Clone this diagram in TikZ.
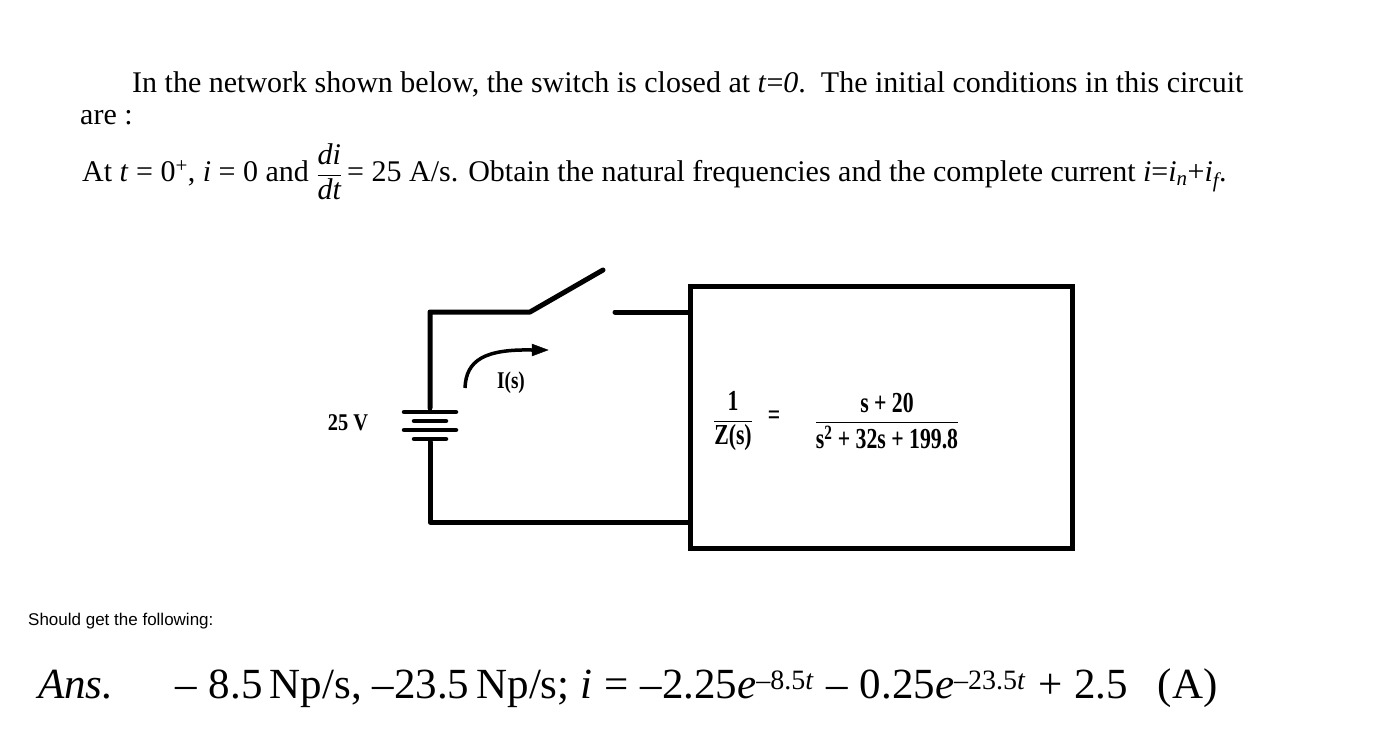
\documentclass[tikz,border=0pt]{standalone}
\usepackage{amsmath}
\usepackage{fontspec}
\setmainfont{Liberation Serif}
\newfontfamily\sansf{Liberation Sans}
\begin{document}
\begin{tikzpicture}[x=1pt,y=-1pt,
  wire/.style={line width=5pt,line cap=round,line join=round},
  txt/.style={inner sep=0pt,anchor=west,font=\fontsize{30}{32}\selectfont},
  bold/.style={inner sep=0pt,font=\bfseries\fontsize{24}{26}\selectfont},
  boxtxt/.style={inner sep=0pt,font=\bfseries\fontsize{29}{30}\selectfont}]
\useasboundingbox (0,0) rectangle (1388,737);
\node[txt] (l1) at (132,84) {In the network shown below, the switch is closed at \textit{t}=\textit{0}.\ \ The initial conditions in this circuit};
\node[txt] (l2) at (80,118) {are :};
\node[txt] (l3) at (82,172) {At \textit{t} = 0$^{\text{+}}$, \textit{i} = 0 and $\dfrac{\text{\itshape di}}{\text{\itshape dt}}$\,= 25 A/s. Obtain the natural frequencies and the complete current \textit{i}=\textit{i}$_{\text{\itshape n}}$+\textit{i}$_{\text{\itshape f}}$.};
% circuit
\coordinate (bt) at (430,408);
\coordinate (bb) at (430,442);
\coordinate (sw) at (530,312);
\coordinate (swe) at (603,270);
\coordinate (ct) at (615,312);
\node[draw,line width=5pt,minimum width=382pt,minimum height=262pt,inner sep=0pt] (box) at (881,417) {};
\draw[wire] (bt) |- (sw) -- (swe);
\draw[wire] (ct) -- (ct -| box.west);
\draw[wire] (bb) |- (box.west |- 0,522);
\foreach \y/\w in {412/26,421/16,430/26,439/16}
  \draw[line width=4.5pt,line cap=round] (430-\w,\y) -- (430+\w,\y);
\node[bold] (v) at (348,423) {\scalebox{0.85}[1]{25 V}};
\coordinate (a0) at (465,388);
\coordinate (a1) at (532,350);
\draw[line width=3.5pt] (a0) .. controls (466,360) and (485,349) .. (a1);
\draw[fill] (548,350) -- (532,344) -- (532,356) -- cycle;
\node[bold] (is) at (511,383) {\scalebox{0.8}[1]{I(s)}};
\node[boxtxt] (f1) at (733,421) {\scalebox{0.75}[1]{$\dfrac{\text{\bfseries 1}}{\text{\bfseries Z(s)}}$}};
\node[boxtxt] (eq) at (774,418) {\scalebox{0.75}[1]{=}};
\node[boxtxt] (f2) at (887,421) {\scalebox{0.75}[1]{$\dfrac{\text{\bfseries s + 20}}{\text{\bfseries s$^{\text{2}}$ + 32s + 199.8}}$}};
\node[inner sep=0pt,anchor=west,font=\sansf\fontsize{17}{20}\selectfont] (sh) at (28,621) {Should get the following:};
\node[inner sep=0pt,anchor=west,font=\fontsize{43}{44}\selectfont] (ans) at (38,688) {\textit{Ans.}\hspace{62pt}–\hspace{12pt}8.5\,Np/s, –23.5\,Np/s; \textit{i}\hspace{12pt}=\hspace{12pt}–2.25\textit{e}$^{\text{\fontsize{28}{30}\selectfont –8.5\textit{t}}}$\hspace{12pt}–\hspace{12pt}0.25\textit{e}$^{\text{\fontsize{28}{30}\selectfont –23.5\textit{t}}}$\hspace{12pt}+\hspace{12pt}2.5\hspace{30pt}(A)};
\end{tikzpicture}
\end{document}
